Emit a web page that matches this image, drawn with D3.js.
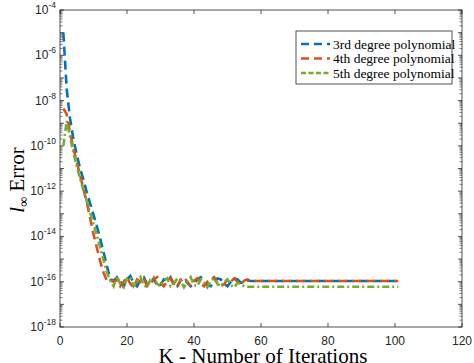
<!DOCTYPE html>
<html>
<head>
<meta charset="utf-8">
<script src="https://cdn.jsdelivr.net/npm/d3@7"></script>
<style>
  body { margin: 0; background: #fff; }
  svg { display: block; }
</style>
</head>
<body>
<div id="chart"></div>
<script>
// iteration numbers (curves are flat after k = 57, so the last point is k = 101)
const iterations = [1, 2, 3, 4, 5, 6, 7, 8, 9, 10, 11, 12, 13, 14, 15, 16, 17, 18, 19, 20,
  21, 22, 23, 24, 25, 26, 27, 28, 29, 30, 31, 32, 33, 34, 35, 36, 37, 38, 39, 40,
  41, 42, 43, 44, 45, 46, 47, 48, 49, 50, 51, 52, 53, 54, 55, 56, 57, 101];

// log10 of the l-inf error
const deg3 = [-5.0, -7.5, -8.8, -9.7, -10.4, -11.0, -11.5, -12.05, -12.55, -13.05,
  -13.55, -14.1, -14.7, -15.3, -15.9, -15.95,
  -15.8, -16.0, -16.2, -15.9, -15.75, -16.05, -16.2, -15.9, -15.8, -16.1,
  -16.0, -15.85, -16.2, -16.15, -15.9, -16.0, -15.8, -16.1, -16.2, -15.95,
  -15.85, -16.05, -16.2, -16.1, -15.9, -15.8, -16.0, -16.15, -16.2, -15.95,
  -15.85, -15.9, -16.1, -16.2, -16.0, -15.85, -15.9, -16.05, -16.0, -15.95, -15.97,
  -15.97];
const deg4 = [-8.35, -8.6, -9.4, -10.1, -10.7, -11.3, -11.9, -12.5, -13.2, -13.9,
  -14.5, -15.1, -15.6, -15.95, -15.95, -16.0,
  -15.9, -16.2, -16.0, -15.8, -16.1, -16.25, -15.9, -16.0, -15.85, -16.2,
  -16.1, -15.9, -15.8, -16.05, -16.2, -16.0, -15.85, -16.15, -16.25, -15.9,
  -15.8, -16.0, -16.2, -15.95, -15.85, -16.1, -16.2, -16.0, -15.9, -15.8,
  -16.05, -16.2, -16.1, -15.9, -16.0, -15.85, -16.0, -16.1, -15.95, -15.9, -15.97,
  -15.97];
const deg5 = [-10.0, -8.9, -9.6, -10.3, -10.9, -11.45, -11.95, -12.45, -12.95, -13.45,
  -13.95, -14.5, -15.05, -15.6, -15.95, -16.2,
  -15.75, -16.1, -16.25, -15.85, -15.8, -16.2, -16.0, -15.8, -16.15, -16.25,
  -15.9, -15.8, -16.1, -16.2, -15.95, -15.85, -16.2, -16.1, -15.85, -15.95,
  -16.25, -16.0, -15.8, -16.15, -16.2, -15.9, -16.05, -16.25, -15.95, -15.85,
  -16.1, -16.2, -16.0, -15.9, -16.15, -16.25, -16.05, -16.1, -16.2, -16.22, -16.22,
  -16.22];

const seriesNames = ["3rd degree polynomial", "4th degree polynomial", "5th degree polynomial"];
const seriesColors = ["#0072BD", "#D95319", "#77AC30"];
const seriesDash = ["9,5", "9,5", "7,3,2,3"];

const xTicks = [0, 20, 40, 60, 80, 100, 120];
const yLabelExps = [-4, -6, -8, -10, -12, -14, -16, -18];

const W = 474, H = 363;
const margin = {top: 10, right: 12, bottom: 36, left: 60};
const width = W - margin.left - margin.right,
  height = H - margin.top - margin.bottom;

const serif = "'Liberation Serif', 'Times New Roman', serif";
const sans = "'Liberation Sans', Arial, sans-serif";

const svg = d3.select("#chart").append("svg")
  .attr("width", W)
  .attr("height", H);

const g = svg.append("g")
  .attr("transform", `translate(${margin.left},${margin.top})`);

const x = d3.scaleLinear().domain([0, 120]).range([0, width]);
const y = d3.scaleLog().domain([1e-18, 1e-4]).range([height, 0]);

const axisColor = "#262626";

// box
g.append("rect")
  .attr("width", width)
  .attr("height", height)
  .attr("fill", "none")
  .attr("stroke", axisColor)
  .attr("stroke-width", 0.8);

// x ticks (inside, top and bottom)
xTicks.forEach(t => {
  g.append("line").attr("x1", x(t)).attr("x2", x(t)).attr("y1", height).attr("y2", height - 4)
    .attr("stroke", axisColor).attr("stroke-width", 0.8);
  g.append("line").attr("x1", x(t)).attr("x2", x(t)).attr("y1", 0).attr("y2", 4)
    .attr("stroke", axisColor).attr("stroke-width", 0.8);
  g.append("text")
    .attr("x", x(t))
    .attr("y", height + 18)
    .attr("text-anchor", "middle")
    .attr("font-family", sans)
    .attr("font-size", "12px")
    .attr("fill", axisColor)
    .text(t);
});

// y ticks: major every decade, minor 2..9
for (let e = -18; e <= -4; e++) {
  const yy = y(Math.pow(10, e));
  [[0, 4], [width, width - 4]].forEach(([a, b]) => {
    g.append("line").attr("x1", a).attr("x2", b).attr("y1", yy).attr("y2", yy)
      .attr("stroke", axisColor).attr("stroke-width", 0.8);
  });
  if (e < -4) {
    for (let m = 2; m <= 9; m++) {
      const ym = y(m * Math.pow(10, e));
      [[0, 2.5], [width, width - 2.5]].forEach(([a, b]) => {
        g.append("line").attr("x1", a).attr("x2", b).attr("y1", ym).attr("y2", ym)
          .attr("stroke", axisColor).attr("stroke-width", 0.6);
      });
    }
  }
}

yLabelExps.forEach(e => {
  const t = g.append("text")
    .attr("x", -4)
    .attr("y", y(Math.pow(10, e)) + 4)
    .attr("text-anchor", "end")
    .attr("font-family", sans)
    .attr("font-size", "12px")
    .attr("fill", axisColor);
  t.append("tspan").text("10");
  t.append("tspan").attr("dy", -6).attr("font-size", "8.5px").text(e);
});

// lines
const line = d3.line()
  .x((d, i) => x(iterations[i]))
  .y(d => y(Math.pow(10, d)));

[deg3, deg4, deg5].forEach((s, i) => {
  g.append("path")
    .datum(s)
    .attr("fill", "none")
    .attr("stroke", seriesColors[i])
    .attr("stroke-width", 2.6)
    .attr("stroke-dasharray", seriesDash[i])
    .attr("d", line);
});

// legend
const lg = svg.append("g").attr("transform", "translate(296,31)");
lg.append("rect")
  .attr("width", 156)
  .attr("height", 53)
  .attr("fill", "#fff")
  .attr("stroke", axisColor)
  .attr("stroke-width", 0.8);
seriesNames.forEach((name, i) => {
  const yy = 13 + i * 14.5;
  lg.append("line")
    .attr("x1", 5).attr("x2", 34)
    .attr("y1", yy).attr("y2", yy)
    .attr("stroke", seriesColors[i])
    .attr("stroke-width", 2.6)
    .attr("stroke-dasharray", i < 2 ? "8,5" : "5,2.5");
  lg.append("text")
    .attr("x", 37)
    .attr("y", yy + 4.5)
    .attr("font-family", serif)
    .attr("font-size", "13.5px")
    .attr("fill", "#000")
    .text(name);
});

// axis labels
svg.append("text")
  .attr("x", margin.left + width / 2 + 2)
  .attr("y", H)
  .attr("text-anchor", "middle")
  .attr("font-family", serif)
  .attr("font-size", "21px")
  .attr("fill", "#000")
  .text("K - Number of Iterations");

const yl = svg.append("text")
  .attr("transform", "translate(24,180) rotate(-90)")
  .attr("text-anchor", "middle")
  .attr("font-family", serif)
  .attr("font-size", "21px")
  .attr("fill", "#000");
yl.append("tspan").attr("font-style", "italic").text("l");
yl.append("tspan").attr("dy", 4).attr("font-size", "14px").text("∞");
yl.append("tspan").attr("dy", -4).text(" Error");
</script>
</body>
</html>
